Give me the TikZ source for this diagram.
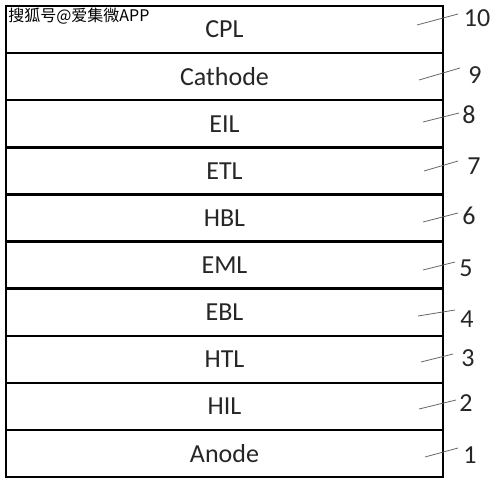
\documentclass[tikz,border=0pt]{standalone}
\usepackage{fontspec}
\setmainfont{Carlito}
\newfontfamily\cjk{Noto Sans CJK SC}
\tikzset{
  layer/.style={draw=black,line width=1.8pt},
  lead/.style={draw=gray!80!black,line width=0.6pt},
  lbl/.style={font=\fontsize{19.5}{23}\selectfont,text=black!85},
}
\begin{document}
\begin{tikzpicture}[x=0.75pt,y=-0.75pt]
	\useasboundingbox (0,0) rectangle (496,483);
	% stack of layers, top to bottom
	\foreach \t [count=\i from 0] in {CPL,Cathode,EIL,ETL,HBL,EML,EBL,HTL,HIL,Anode}{
		\draw[layer] (6,6+47.1*\i) rectangle (443,6+47.1*\i+47.1);
		\node[lbl] (t\i) at (224.5,6+47.1*\i+23.55) {\t};
	}
	% leader lines and numbers
	\foreach \n/\ax/\ay/\bx/\by/\lx/\ly in {10/417/25/458/14/477/18, 9/419/80/460/68/475/75, 8/423/122/459/113/469/115, 7/424/171/458/161/474/166, 6/423/222/458/213/469/216, 5/423/270/455/262/466/268, 4/418/316/455/310/467/319, 3/421/362/453/354/468/358, 2/419/409/456/400/466/403, 1/425/457/458/448/470/455}{
		\coordinate (a\n) at (\ax,\ay);
		\coordinate (b\n) at (\bx,\by);
		\draw[lead] (a\n) -- (b\n);
		\node[lbl] (n\n) at (\lx,\ly) {\n};
	}
	\node[anchor=west,inner sep=0pt,font=\cjk\fontsize{12}{14}\selectfont] (wm) at (8,16) {搜狐号@爱集微APP};
\end{tikzpicture}
\end{document}
